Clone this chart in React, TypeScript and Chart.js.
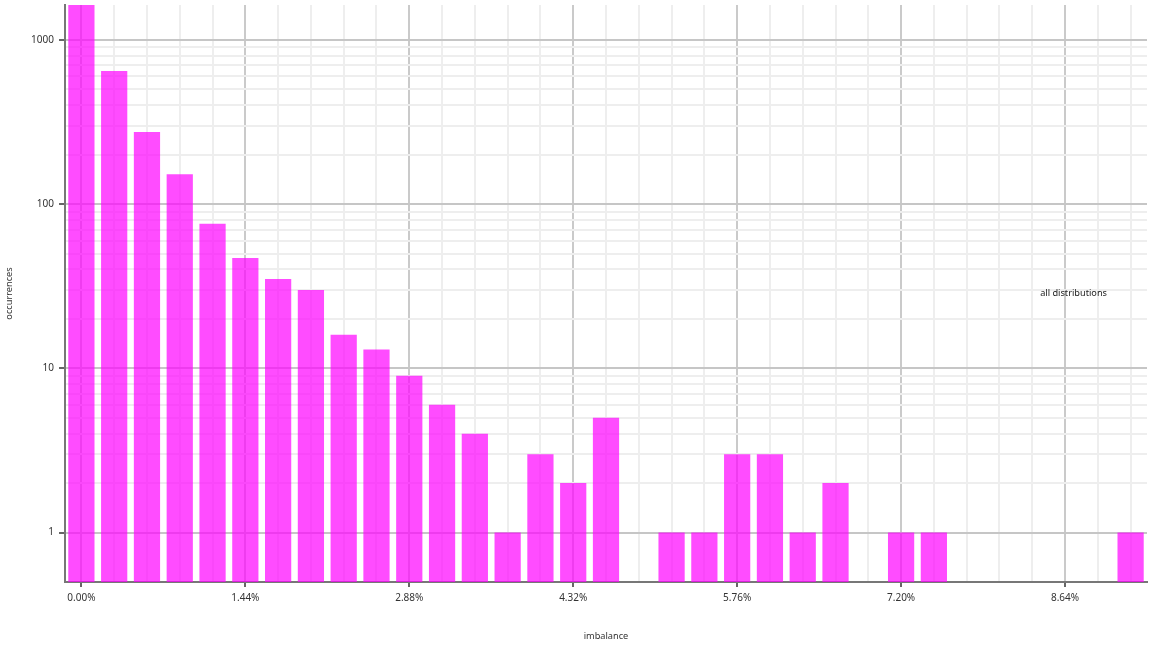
import { Chart, registerables } from "chart.js";
import { useEffect, useRef } from "react";

Chart.register(...registerables);

// bin centres (imbalance, %)
const imbalanceBins: number[] = [
  0, 0.288, 0.576, 0.864, 1.152, 1.44, 1.728, 2.016, 2.304, 2.592, 2.88,
  3.168, 3.456, 3.744, 4.032, 4.32, 4.608, 4.896, 5.184, 5.472, 5.76,
  6.048, 6.336, 6.624, 6.912, 7.2, 7.488, 7.776, 8.064, 8.352, 8.64,
  8.928, 9.216,
];

const occurrences: (number | null)[] = [
  1630, 647, 275, 152, 76, 47, 35, 30, 16, 13, 9, 6, 4, 1, 3, 2, 5, null,
  1, 1, 3, 3, 1, 2, null, 1, 1, null, null, null, null, null, 1,
];

const seriesLabel = "all distributions";
const xMin = -0.144;
const xMax = 9.36;
const yMin = 0.5;
const yMax = 1630;

const FONT = "'Noto Sans', 'DejaVu Sans', sans-serif";

const isPow10 = (v: number) => {
  const l = Math.log10(v);
  return Math.abs(l - Math.round(l)) < 1e-9;
};
const isLogGrid = (v: number) => {
  if (v < 1 - 1e-9) return false;
  const m = v / Math.pow(10, Math.floor(Math.log10(v) + 1e-9));
  return Math.abs(m - Math.round(m)) < 1e-6;
};

// draws the series name inside the plot, right side, vertically centred
const insideLabel = {
  id: "insideLabel",
  afterDraw(chart: Chart) {
    const { ctx, chartArea } = chart;
    ctx.save();
    ctx.font = `9.2px ${FONT}`;
    ctx.fillStyle = "#222";
    ctx.textAlign = "right";
    ctx.textBaseline = "middle";
    ctx.fillText(seriesLabel, chartArea.right - 40, (chartArea.top + chartArea.bottom) / 2);
    ctx.restore();
  },
};

const ImbalanceHistogram: React.FC = () => {
  const chartRef = useRef<HTMLCanvasElement | null>(null);

  useEffect(() => {
    if (!chartRef.current) return;
    const data = {
      datasets: [{
        label: seriesLabel,
        data: imbalanceBins.map((x, i) => ({ x, y: occurrences[i] })),
        backgroundColor: "rgba(255, 0, 255, 0.7)",
        borderWidth: 0,
        categoryPercentage: 1,
        barPercentage: 0.8,
      }],
    };

    const options: any = {
      responsive: true,
      maintainAspectRatio: false,
      animation: false,
      layout: { padding: { top: 5, right: 5, left: 0, bottom: 0 } },
      plugins: {
        legend: { display: false },
        tooltip: { enabled: false },
      },
      scales: {
        x: {
          type: "linear",
          min: xMin,
          max: xMax,
          offset: false,
          afterBuildTicks: (scale: any) => {
            scale.ticks = imbalanceBins.map((v) => ({ value: v }));
          },
          afterFit: (scale: any) => {
            scale.height = 66;
            scale.paddingLeft = 0;
            scale.paddingRight = 0;
          },
          ticks: {
            autoSkip: false,
            maxRotation: 0,
            padding: 5,
            color: "#333",
            font: { family: FONT, size: 10 },
            callback: (v: number, i: number) => (i % 5 === 0 ? v.toFixed(2) + "%" : ""),
          },
          grid: {
            offset: false,
            color: (c: any) => (c.index % 5 === 0 ? "#cacaca" : "#eeeeee"),
            tickColor: (c: any) => (c.index % 5 === 0 ? "#666" : "rgba(0,0,0,0)"),
            tickLength: 5,
            lineWidth: 2,
          },
          border: { color: "#777", width: 2 },
          title: {
            display: true,
            text: "imbalance",
            color: "#333",
            font: { family: FONT, size: 9.2 },
            padding: { top: 0, bottom: 6 },
          },
        },
        y: {
          type: "logarithmic",
          min: yMin,
          max: yMax,
          afterFit: (scale: any) => {
            scale.width = 65;
            scale.paddingTop = 0;
            scale.paddingBottom = 0;
          },
          ticks: {
            autoSkip: false,
            padding: 5,
            color: "#333",
            font: { family: FONT, size: 10 },
            callback: (v: number) => (isPow10(v) ? String(v) : ""),
          },
          grid: {
            color: (c: any) => {
              const v = c.tick ? c.tick.value : 0;
              if (!isLogGrid(v)) return "rgba(0,0,0,0)";
              return isPow10(v) ? "#c6c6c6" : "#eeeeee";
            },
            tickColor: (c: any) => (c.tick && isPow10(c.tick.value) ? "#666" : "rgba(0,0,0,0)"),
            tickLength: 6,
            lineWidth: 2,
          },
          border: { color: "#777", width: 2 },
          title: {
            display: true,
            text: "occurrences",
            color: "#333",
            font: { family: FONT, size: 9.2 },
            padding: { top: 4, bottom: 0 },
          },
        },
      },
    };

    const ctx = chartRef.current.getContext("2d");
    if (ctx) {
      const myChart = new Chart(ctx, {
        type: "bar",
        data: data as any,
        options: options,
        plugins: [insideLabel],
      });
      return () => myChart.destroy();
    }
  }, []);

  return (
    <div style={{ position: "absolute", left: 0, top: 0, width: "1152px", height: "648px", background: "#fff" }}>
      <canvas ref={chartRef} />
    </div>
  );
};

export default function App() {
  return <ImbalanceHistogram />;
}
